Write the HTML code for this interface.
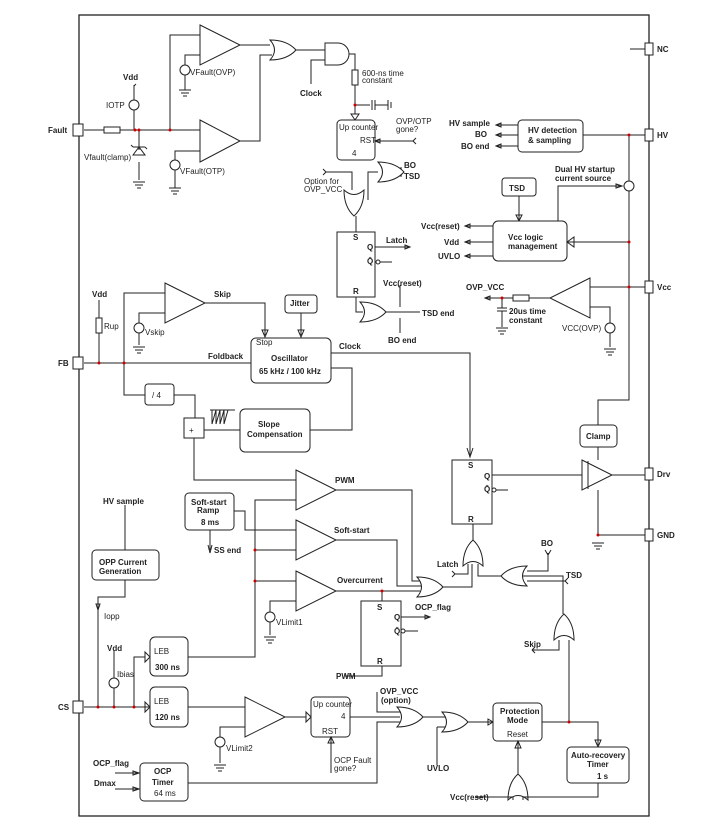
<!DOCTYPE html>
<html><head><meta charset="utf-8"><style>
html,body{margin:0;padding:0;background:#fff}
svg{display:block}
text{font-family:"Liberation Sans",Arial,sans-serif;font-size:8px;font-weight:bold;fill:#222}
.n{font-weight:normal}
</style></head><body>
<svg width="715" height="825" viewBox="0 0 715 825" xmlns="http://www.w3.org/2000/svg">
<defs>
<path id="or" d="M0,0 Q9,10 0,20 Q17,20 26,10 Q17,0 0,0Z" fill="#fff" stroke="#222" stroke-width="1"/>
<path id="and" d="M0,0 H13 A11,11 0 0 1 13,22 H0Z" fill="#fff" stroke="#222" stroke-width="1"/>
<g id="gnd" stroke="#222" stroke-width="1"><line x1="-6" y1="0" x2="6" y2="0"/><line x1="-4" y1="3" x2="4" y2="3"/><line x1="-2" y1="6" x2="2" y2="6"/></g>
</defs>
<g fill="none" stroke="#222" stroke-width="1">
<rect x="79" y="15" width="570" height="801" stroke-width="1.3"/>
<rect x="73" y="124" width="10" height="12" fill="#fff"/>
<rect x="73" y="357" width="10" height="12" fill="#fff"/>
<rect x="73" y="701" width="10" height="12" fill="#fff"/>
<rect x="645" y="43" width="8" height="12" fill="#fff"/>
<rect x="645" y="129" width="8" height="12" fill="#fff"/>
<rect x="645" y="281" width="8" height="12" fill="#fff"/>
<rect x="645" y="468" width="8" height="12" fill="#fff"/>
<rect x="645" y="529" width="8" height="12" fill="#fff"/>
<line x1="630" y1="49" x2="645" y2="49"/>

<path d="M84,130 H104 M120,130 H200"/>
<rect x="104" y="127" width="16" height="6"/>
<path d="M170,130 V35 H200"/>
<polygon points="200,25 240,45 200,65" fill="#fff"/>
<polygon points="200,120 240,141 200,162" fill="#fff"/>
<path d="M200,55 H185 V65 M185,75 V90"/>
<circle cx="185" cy="70" r="5"/>
<use href="#gnd" x="185" y="90"/>
<path d="M200,151 H175 V160 M175,170 V188"/>
<circle cx="175" cy="165" r="5"/>
<use href="#gnd" x="175" y="188"/>
<path d="M240,45 H270 M240,141 H260 V55 H272"/>
<use href="#or" x="270" y="40"/>
<path d="M296,50 H325 M325,60 H311 V84"/>
<use href="#and" x="325" y="43"/>
<path d="M349,54 H355 V70 M355,85 V117"/>
<rect x="352" y="70" width="6" height="15"/>
<path d="M355,105 H370 M372,100 V110 M375,100 V110 M375,105 H388 M388,100 V110 M391,102 V108"/>
<path d="M351,114 L355,120 L359,114Z" fill="#fff"/>
<path d="M134,85 V100 M134,110 V130 M139,130 V150 M139,162 V180"/>
<circle cx="134" cy="105" r="5"/>
<path d="M134,86 l2,-2"/>
<path d="M133,155 l6,-8 l6,8z M133,147 h12 M133,147 l-2,-2 M145,147 l2,2"/>
<use href="#gnd" x="139" y="182"/>
<rect x="337" y="120" width="38" height="40" rx="4" fill="#fff"/>
<path d="M375,141 H413 M375,141 l5,-2 v4z M413,141 l3,-3 M413,141 l3,3"/>
<path d="M326,172 H352 V190 M386,168 H402 M386,176 H402 M378,172 H368 V200"/>
<use href="#or" transform="translate(378,162)"/>
<use href="#or" transform="translate(364,190) rotate(90)"/>
<path d="M356,216 V232"/>
<path d="M326,172 l-3,-3 M326,172 l-3,3"/>
<rect x="337" y="232" width="38" height="65" fill="#fff"/>
<path d="M375,247 H410 M410,247 l-5,-2 v4z M380,262 H392"/>
<circle cx="378" cy="262" r="2" fill="#fff"/>
<path d="M356,297 V312 H363 M386,312 H420 M400,307 V285 M400,318 V333"/>
<use href="#or" x="360" y="302"/>

<path d="M84,363 H251 M99,363 V333 M99,318 V300"/>
<rect x="96" y="318" width="6" height="15"/>
<path d="M124,363 V293 H165 M165,313 H139 V323 M139,333 V345"/>
<circle cx="139" cy="328" r="5"/>
<use href="#gnd" x="139" y="347"/>
<polygon points="165,283 205,303 165,323" fill="#fff"/>
<path d="M205,303 H265 V335 M301,313 V335"/>
<path d="M262,330 L265,337 L268,330Z M298,330 L301,337 L304,330Z"/>
<rect x="285" y="295" width="32" height="18" rx="3" fill="#fff"/>
<rect x="251" y="338" width="80" height="45" rx="5" fill="#fff"/>
<path d="M331,353 H470 V455 M331,368 H352 V430 H310"/>
<path d="M467,448 L470,457 L473,448"/>
<path d="M124,363 V395 H145"/>
<rect x="145" y="384" width="29" height="21" rx="3" fill="#fff"/>
<path d="M174,395 H195 V418"/>
<rect x="184" y="418" width="20" height="20" fill="#fff"/>
<path d="M204,430 H240 M194,438 V480 H296"/>
<path d="M212,410 v14 l4,-14 v14 l4,-14 v14 l4,-14 v14 l4,-14 M210,410 h25"/>
<rect x="240" y="409" width="70" height="43" rx="5" fill="#fff"/>

<polygon points="296,470 336,490 296,510" fill="#fff"/>
<polygon points="296,520 336,540 296,560" fill="#fff"/>
<polygon points="296,571 336,591 296,611" fill="#fff"/>
<path d="M296,500 H255 V657 H188 M255,550 H296 M255,581 H296"/>
<path d="M234,511 H245 V530 H296"/>
<path d="M296,601 H270 V612 M270,622 V635"/>
<circle cx="270" cy="617" r="5"/>
<use href="#gnd" x="270" y="637"/>
<rect x="185" y="493" width="49" height="37" rx="4" fill="#fff"/>
<path d="M210,530 V550 M208,545 L210,553 L212,545"/>
<path d="M336,490 H412 V581 H420 M336,540 H397 V586 H421 M336,591 H420 M382,591 V601"/>
<use href="#or" x="417" y="577"/>
<!-- latch2 R OR gate -->
<path d="M443,587 H472 V564 M455,574 H468 V564 M478,564 V576 H503"/>
<path d="M455,574 l-3,-3 M455,574 l-3,3"/>
<use href="#or" transform="translate(463,566) rotate(-90)"/>
<path d="M473,540 V524"/>
<rect x="452" y="460" width="40" height="64" fill="#fff"/>
<path d="M492,475 H582 M496,490 H508"/>
<circle cx="494" cy="490" r="2" fill="#fff"/>
<use href="#or" transform="translate(527,586) rotate(180)"/>
<path d="M527,571 H548 V553 M527,581 H565 M522,576 H563 V614"/>
<path d="M545,550 L548,555 L551,550"/>
<path d="M565,581 l3,-3 M565,581 l3,3"/>
<use href="#or" transform="translate(554,640) rotate(-90)"/>
<path d="M559,640 V650 H532 M569,640 V722 M542,722 H598 V745"/>
<path d="M532,650 l3,-3 M532,650 l3,3"/>
<path d="M595,740 L598,747 L601,740Z"/>
<rect x="361" y="601" width="40" height="65" fill="#fff"/>
<path d="M401,617 H430 M430,617 l-5,-2 v4z M405,631 H418 M345,676 H382 V666"/>
<circle cx="403" cy="631" r="2" fill="#fff"/>
<path d="M629,135 V400 H598 V425 M598,447 V460 M598,490 V535 H645 M612,475 H645"/>
<rect x="580" y="425" width="37" height="22" rx="4" fill="#fff"/>
<polygon points="582,460 612,475 582,490" fill="#fff"/>
<line x1="588" y1="461" x2="588" y2="489"/>
<use href="#gnd" x="598" y="543"/>
<path d="M583,135 H645 M629,287 H645"/>
<rect x="518" y="120" width="65" height="32" rx="4" fill="#fff"/>
<path d="M518,125 H496 M518,135 H496 M518,146 H496"/>
<path d="M496,125 l5,-2 v4z M496,135 l5,-2 v4z M496,146 l5,-2 v4z"/>
<circle cx="629" cy="186" r="5" fill="#fff"/>
<path d="M622,186 H558 V221 M622,186 l-6,-2 v4z"/>
<rect x="502" y="178" width="34" height="18" rx="3" fill="#fff"/>
<path d="M519,196 V221 M516,215 L519,221 L522,215Z"/>
<rect x="493" y="221" width="74" height="40" rx="5" fill="#fff"/>
<path d="M567,242 H629 M567,242 l7,-5 v10z"/>
<path d="M493,226 H465 M493,242 H465 M493,256 H465 M465,226 l5,-2 v4z M465,242 l5,-2 v4z M465,256 l5,-2 v4z"/>
<polygon points="590,278 550,298 590,318" fill="#fff"/>
<path d="M629,287 H590 M590,307 H610 V323 M610,333 V347 M550,298 H529 M513,298 H485 M485,298 l5,-2 v4z M502,298 V308 M497,308 H507 M497,311 H507 M502,311 V327"/>
<rect x="513" y="295" width="16" height="6"/>
<circle cx="610" cy="328" r="5"/>
<use href="#gnd" x="610" y="349"/>
<use href="#gnd" x="502" y="328"/>
<path d="M84,707 H150 M98,707 V597 H125 V580 M125,550 V505 M98,610 l-2,-6 h4z"/>
<rect x="92" y="550" width="67" height="30" rx="4" fill="#fff"/>
<path d="M114,707 V688 M114,678 V650 M134,707 V657 H145"/>
<circle cx="114" cy="683" r="5"/>
<path d="M145,652 L150,657 L145,662Z M145,702 L150,707 L145,712Z"/>
<rect x="150" y="637" width="38" height="39" rx="5" fill="#fff"/>
<rect x="150" y="687" width="38" height="40" rx="5" fill="#fff"/>
<polygon points="245,697 285,717 245,737" fill="#fff"/>
<path d="M188,707 H245 M245,727 H220 V737 M220,747 V763 M285,717 H306"/>
<circle cx="220" cy="742" r="5"/>
<use href="#gnd" x="220" y="765"/>
<path d="M306,712 L311,717 L306,722Z"/>
<rect x="311" y="697" width="39" height="40" rx="4" fill="#fff"/>
<path d="M331,737 V773 M328,743 L331,737 L334,743Z"/>
<path d="M350,717 H400 M377,692 V712 H400 M188,783 H377 V722 H400"/>
<use href="#or" x="397" y="707"/>
<path d="M423,717 H445 M437,727 H445 M437,727 V765"/>
<use href="#or" x="442" y="712"/>
<path d="M468,722 H493 M488,719 l5,3 l-5,3z"/>
<rect x="493" y="703" width="49" height="38" rx="4" fill="#fff"/>
<use href="#or" transform="translate(508,800) rotate(-90)"/>
<path d="M518,774 V741 M515,748 L518,741 L521,748Z M513,800 V797 H475 M523,800 V797 H598 V783"/>
<rect x="567" y="747" width="62" height="36" rx="4" fill="#fff"/>
<path d="M115,773 H140 M115,789 H140 M133,771 l6,2 l-6,2z M133,787 l6,2 l-6,2z"/>
<rect x="140" y="763" width="48" height="38" rx="4" fill="#fff"/>
</g>
<g fill="#c00">
<circle cx="135" cy="130" r="1.5"/><circle cx="139" cy="130" r="1.5"/><circle cx="170" cy="130" r="1.5"/>
<circle cx="355" cy="105" r="1.5"/><circle cx="99" cy="363" r="1.5"/><circle cx="124" cy="363" r="1.5"/>
<circle cx="255" cy="550" r="1.5"/><circle cx="255" cy="581" r="1.5"/><circle cx="98" cy="707" r="1.5"/>
<circle cx="114" cy="707" r="1.5"/><circle cx="134" cy="707" r="1.5"/><circle cx="629" cy="135" r="1.5"/>
<circle cx="629" cy="242" r="1.5"/><circle cx="629" cy="287" r="1.5"/><circle cx="502" cy="298" r="1.5"/>
<circle cx="598" cy="535" r="1.5"/><circle cx="569" cy="722" r="1.5"/><circle cx="382" cy="591" r="1.5"/>
</g>
<text x="48" y="133">Fault</text>
<text x="58" y="366">FB</text>
<text x="58" y="710">CS</text>
<text x="657" y="52">NC</text>
<text x="657" y="138">HV</text>
<text x="657" y="290">Vcc</text>
<text x="657" y="477">Drv</text>
<text x="657" y="538">GND</text>
<text x="123" y="80">Vdd</text>
<text x="106" y="108" class="n">IOTP</text>
<text x="84" y="160" class="n">Vfault(clamp)</text>
<text x="190" y="75" class="n">VFault(OVP)</text>
<text x="180" y="174" class="n">VFault(OTP)</text>
<text x="300" y="96">Clock</text>
<text x="362" y="76" class="n" font-size="6.5">600-ns time</text>
<text x="362" y="83" class="n" font-size="6.5">constant</text>
<text x="339" y="130" class="n" font-size="6.5">Up counter</text>
<text x="360" y="143" class="n" font-size="6.5">RST</text>
<text x="352" y="156" class="n" font-size="6.5">4</text>
<text x="396" y="124" class="n" font-size="6.5">OVP/OTP</text>
<text x="396" y="132" class="n" font-size="6.5">gone?</text>
<text x="304" y="184" class="n" font-size="6.5">Option for</text>
<text x="304" y="192" class="n" font-size="6.5">OVP_VCC</text>
<text x="404" y="168">BO</text>
<text x="404" y="179">TSD</text>
<text x="353" y="240" font-size="7">S</text>
<text x="367" y="250" font-size="7">Q</text>
<text x="367" y="264" font-size="7">Q̄</text>
<text x="353" y="294" font-size="7">R</text>
<text x="386" y="243">Latch</text>
<text x="383" y="286">Vcc(reset)</text>
<text x="422" y="316">TSD end</text>
<text x="388" y="343">BO end</text>
<text x="92" y="297">Vdd</text>
<text x="104" y="329" class="n">Rup</text>
<text x="145" y="335" class="n">Vskip</text>
<text x="214" y="297">Skip</text>
<text x="290" y="306">Jitter</text>
<text x="256" y="345" class="n" font-size="6.5">Stop</text>
<text x="208" y="359">Foldback</text>
<text x="339" y="349">Clock</text>
<text x="271" y="361">Oscillator</text>
<text x="259" y="374">65 kHz / 100 kHz</text>
<text x="152" y="398" font-size="10" class="n">/ 4</text>
<text x="189" y="433" font-size="11" class="n">+</text>
<text x="258" y="427">Slope</text>
<text x="247" y="437">Compensation</text>
<text x="335" y="483">PWM</text>
<text x="334" y="533">Soft-start</text>
<text x="337" y="583">Overcurrent</text>
<text x="191" y="505">Soft-start</text>
<text x="197" y="513">Ramp</text>
<text x="201" y="525">8 ms</text>
<text x="214" y="553">SS end</text>
<text x="276" y="625" class="n">VLimit1</text>
<text x="103" y="504">HV sample</text>
<text x="99" y="565">OPP Current</text>
<text x="99" y="574">Generation</text>
<text x="104" y="619" font-size="10" class="n">Iopp</text>
<text x="107" y="651">Vdd</text>
<text x="117" y="677" class="n">Ibias</text>
<text x="154" y="654" font-size="13" class="n">LEB</text>
<text x="155" y="670">300 ns</text>
<text x="154" y="704" font-size="13" class="n">LEB</text>
<text x="155" y="720">120 ns</text>
<text x="226" y="751" class="n">VLimit2</text>
<text x="313" y="707" class="n" font-size="6.5">Up counter</text>
<text x="341" y="719" class="n" font-size="6.5">4</text>
<text x="322" y="734" class="n" font-size="6.5">RST</text>
<text x="334" y="763" class="n" font-size="6.5">OCP Fault</text>
<text x="334" y="771" class="n" font-size="6.5">gone?</text>
<text x="93" y="766">OCP_flag</text>
<text x="94" y="786">Dmax</text>
<text x="154" y="774">OCP</text>
<text x="152" y="785">Timer</text>
<text x="154" y="796" class="n">64 ms</text>
<text x="336" y="679">PWM</text>
<text x="377" y="610" font-size="7">S</text>
<text x="394" y="620" font-size="7">Q</text>
<text x="394" y="634" font-size="7">Q̄</text>
<text x="377" y="664" font-size="7">R</text>
<text x="415" y="610">OCP_flag</text>
<text x="437" y="567">Latch</text>
<text x="541" y="546">BO</text>
<text x="566" y="578">TSD</text>
<text x="524" y="647">Skip</text>
<text x="468" y="468" font-size="7">S</text>
<text x="484" y="479" font-size="7">Q</text>
<text x="484" y="492" font-size="7">Q̄</text>
<text x="468" y="522" font-size="7">R</text>
<text x="586" y="439">Clamp</text>
<text x="380" y="694">OVP_VCC</text>
<text x="381" y="703">(option)</text>
<text x="427" y="771">UVLO</text>
<text x="500" y="714">Protection</text>
<text x="507" y="723">Mode</text>
<text x="507" y="737" class="n">Reset</text>
<text x="571" y="758">Auto-recovery</text>
<text x="587" y="767">Timer</text>
<text x="597" y="779">1 s</text>
<text x="450" y="800">Vcc(reset)</text>
<text x="449" y="126">HV sample</text>
<text x="475" y="137">BO</text>
<text x="461" y="149">BO end</text>
<text x="528" y="133">HV detection</text>
<text x="528" y="143">&amp; sampling</text>
<text x="555" y="172">Dual HV startup</text>
<text x="555" y="181">current source</text>
<text x="509" y="191">TSD</text>
<text x="508" y="240">Vcc logic</text>
<text x="508" y="249">management</text>
<text x="421" y="229">Vcc(reset)</text>
<text x="444" y="245">Vdd</text>
<text x="438" y="259">UVLO</text>
<text x="466" y="290">OVP_VCC</text>
<text x="509" y="314">20us time</text>
<text x="509" y="323">constant</text>
<text x="562" y="331" class="n">VCC(OVP)</text>
</svg>
</body></html>
